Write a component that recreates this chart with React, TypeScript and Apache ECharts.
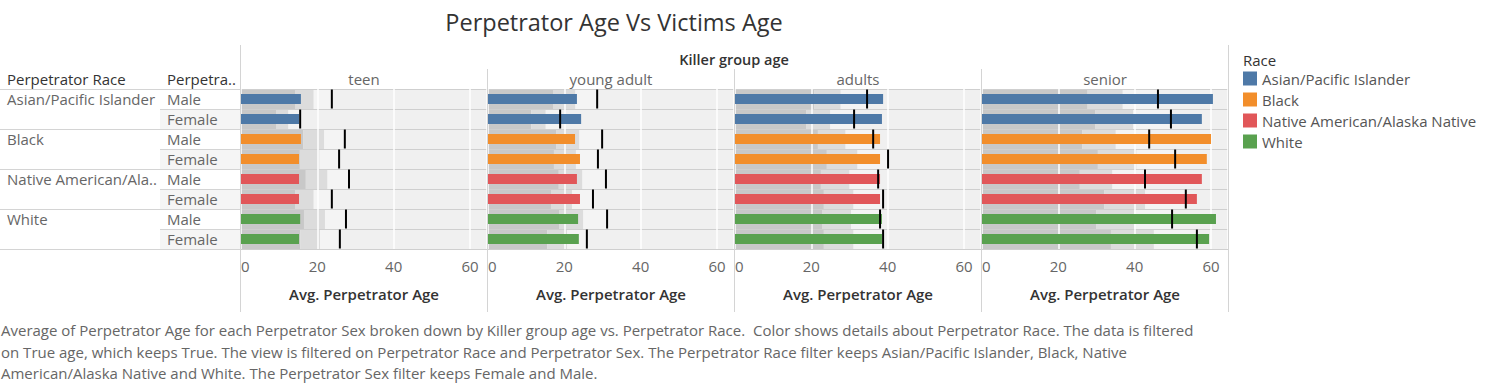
import React, { useEffect, useRef } from "react";
import * as echarts from "echarts";

const races = ["Asian/Pacific Islander", "Black", "Native American/Alaska Native", "White"];
const sexes = ["Male", "Female"];
const ageGroups = ["teen", "young adult", "adults", "senior"];
const raceColors = ["#4e79a7", "#f28e2b", "#e15759", "#59a14f"];

// Avg. Perpetrator Age, rows = race x sex (Male, Female)
const teenAvg = [15.7, 15.2, 15.7, 15.2, 15.2, 15.2, 15.5, 15.2];
const youngAdultAvg = [23.3, 24.4, 22.8, 24.1, 23.3, 24.1, 23.6, 23.8];
const adultsAvg = [38.8, 38.5, 38.0, 38.0, 38.0, 38.0, 38.5, 38.5];
const seniorAvg = [60.5, 57.6, 60.0, 58.9, 57.6, 56.3, 61.3, 59.5];

// Reference line (average target) per row
const teenRef = [23.8, 15.5, 27.2, 25.7, 28.3, 23.8, 27.5, 25.9];
const youngAdultRef = [28.6, 18.9, 29.9, 28.8, 30.9, 27.5, 31.2, 25.9];
const adultsRef = [34.6, 31.2, 36.2, 40.1, 37.5, 38.8, 38.0, 38.8];
const seniorRef = [46.1, 49.5, 43.8, 50.6, 42.7, 53.4, 49.8, 56.3];

const xTicks = [0, 20, 40, 60];
const xMax = 64.45;

const avgByGroup = [teenAvg, youngAdultAvg, adultsAvg, seniorAvg];
const refByGroup = [teenRef, youngAdultRef, adultsRef, seniorRef];

const captionLines = [
  "Average of Perpetrator Age for each Perpetrator Sex broken down by Killer group age vs. Perpetrator Race.  Color shows details about Perpetrator Race. The data is filtered",
  "on True age, which keeps True. The view is filtered on Perpetrator Race and Perpetrator Sex. The Perpetrator Race filter keeps Asian/Pacific Islander, Black, Native",
  "American/Alaska Native and White. The Perpetrator Sex filter keeps Female and Male.",
];

const FONT = "'Open Sans', 'Noto Sans', sans-serif";
const FS = 15;

export default function App() {
  const ref = useRef<HTMLDivElement>(null);
  useEffect(() => {
    if (!ref.current) return;
    const chart = echarts.init(ref.current, undefined, { renderer: "svg" });

    const rowCats: string[] = [];
    const rowRace: number[] = [];
    races.forEach((r, ri) =>
      sexes.forEach((s) => {
        rowCats.push(r + " " + s);
        rowRace.push(ri);
      })
    );

    const paneLeft0 = 241;
    const paneStep = 247;
    const paneW = 246;
    const top = 89;
    const rowH = 20;
    const nRows = rowCats.length;
    const height = rowH * nRows;

    const grids: any[] = [];
    const xAxes: any[] = [];
    const yAxes: any[] = [];
    const series: any[] = [];

    ageGroups.forEach((g, gi) => {
      grids.push({
        left: paneLeft0 + paneStep * gi,
        top,
        width: paneW,
        height,
        show: true,
        backgroundColor: "#f0f0f0",
        borderWidth: 0,
        containLabel: false,
      });
      xAxes.push({
        type: "value",
        gridIndex: gi,
        min: 0,
        max: xMax,
        interval: 20,
        z: 1.5,
        axisLine: { show: false },
        axisTick: { show: false },
        axisLabel: {
          color: "#666",
          fontSize: FS,
          fontFamily: FONT,
          margin: 9,
          showMaxLabel: false,
          alignMinLabel: "left",
          formatter: (v: number) => (xTicks.includes(v) ? String(v) : ""),
        },
        splitLine: { show: true, lineStyle: { color: "#ffffff", width: 1.5 } },
        name: "Avg. Perpetrator Age",
        nameLocation: "middle",
        nameGap: 37,
        nameTextStyle: { color: "#333", fontSize: FS, fontWeight: 600, fontFamily: FONT },
      });
      // band axis
      yAxes.push({
        type: "category",
        gridIndex: gi,
        data: rowCats,
        inverse: true,
        z: 1.5,
        axisLine: { show: false },
        axisTick: { show: false },
        axisLabel: { show: false },
        splitLine: { show: true, lineStyle: { color: "#cfcfcf", width: 1 } },
      });
      // bar axis
      yAxes.push({
        type: "category",
        gridIndex: gi,
        data: rowCats,
        inverse: true,
        axisLine: { show: false },
        axisTick: { show: false },
        axisLabel: { show: false },
        splitLine: { show: false },
      });

      const refs = refByGroup[gi];
      const avgs = avgByGroup[gi];
      const bandDefs = [
        { frac: 0.6, color: "#c8c8c8" },
        { frac: 0.2, color: "#dcdcdc" },
        { frac: 0.2, color: "#f4f4f4" },
      ];
      bandDefs.forEach((b, bi) => {
        series.push({
          type: "bar",
          name: "band" + bi,
          xAxisIndex: gi,
          yAxisIndex: gi * 2,
          stack: "band" + gi,
          barWidth: rowH,
          z: 1,
          silent: true,
          itemStyle: { color: b.color },
          data: refs.map((v) => +(v * b.frac).toFixed(3)),
        });
      });
      races.forEach((r, ri) => {
        series.push({
          type: "bar",
          name: r,
          xAxisIndex: gi,
          yAxisIndex: gi * 2 + 1,
          barWidth: 10,
          barGap: "-100%",
          z: 2,
          itemStyle: { color: raceColors[ri] },
          data: avgs.map((v, i) => (rowRace[i] === ri ? v : "-")),
        });
      });
      series.push({
        type: "scatter",
        name: "ref" + gi,
        xAxisIndex: gi,
        yAxisIndex: gi * 2,
        symbol: "rect",
        symbolSize: [2, 19],
        z: 3,
        itemStyle: { color: "#000", opacity: 1 },
        data: refs.map((v, i) => [v, i]),
      });
    });

    const graphics: any[] = [];
    const line = (x1: number, y1: number, x2: number, y2: number, color = "#d4d4d4") =>
      graphics.push({
        type: "line",
        silent: true,
        z: 10,
        shape: { x1, y1, x2, y2 },
        style: { stroke: color, lineWidth: 1 },
      });
    const text = (t: string, x: number, y: number, opts: any = {}) =>
      graphics.push({
        type: "text",
        silent: true,
        x,
        y,
        style: {
          text: t,
          fontFamily: FONT,
          fontSize: FS,
          fill: "#666",
          textVerticalAlign: "middle",
          verticalAlign: "middle",
          ...opts,
        },
      });

    // title
    text("Perpetrator Age Vs Victims Age", 614, 22, {
      fontSize: 23.5,
      fill: "#333",
      align: "center",
      textAlign: "center",
    });
    text("Killer group age", paneLeft0 + (paneStep * 4) / 2 - 1, 59, {
      fill: "#333",
      fontSize: 14.5,
      align: "center",
      textAlign: "center",
      fontWeight: 600,
    });
    ageGroups.forEach((g, gi) => {
      text(g, paneLeft0 + paneStep * gi + paneW / 2, 79, { align: "center", textAlign: "center" });
    });
    text("Perpetrator Race", 7, 79, { fill: "#333" });
    text("Perpetrator Sex", 167, 79, { fill: "#333", width: 72, overflow: "truncate", ellipsis: ".." });

    // row header backgrounds (Female cells)
    rowCats.forEach((_, i) => {
      if (i % 2 === 1) {
        graphics.push({
          type: "rect",
          silent: true,
          z: 0,
          shape: { x: 160, y: top + i * rowH, width: 80, height: rowH },
          style: { fill: "#f5f5f5" },
        });
      }
    });
    races.forEach((r, ri) => {
      text(r, 7, top + ri * 2 * rowH + 10, { width: 152, overflow: "truncate", ellipsis: ".." });
      sexes.forEach((s, si) => {
        text(s, 167, top + (ri * 2 + si) * rowH + 10);
      });
    });
    // horizontal lines in row header
    for (let i = 0; i <= nRows; i++) {
      const y = top + i * rowH + 0.5;
      if (i % 2 === 0) line(0, y, 240, y);
      else line(160, y, 240, y);
    }
    // pane dividers
    line(240.5, 45, 240.5, 312);
    for (let gi = 1; gi < 4; gi++) {
      const x = paneLeft0 + paneStep * gi - 0.5;
      line(x, 69, x, 312);
    }
    line(1228.5, 45, 1228.5, 312);

    // legend title
    text("Race", 1243, 60, { fill: "#333" });

    // caption
    captionLines.forEach((c, i) => {
      text(c, 1, 330 + i * 21.5, { fill: "#666" });
    });

    chart.setOption({
      animation: false,
      grid: grids,
      xAxis: xAxes,
      yAxis: yAxes,
      series,
      legend: {
        orient: "vertical",
        left: 1243,
        top: 71,
        padding: 0,
        itemWidth: 14,
        itemHeight: 14,
        itemGap: 6,
        icon: "rect",
        data: races,
        selectedMode: false,
        textStyle: { color: "#555", fontSize: FS, fontFamily: FONT },
      },
      graphic: graphics,
    });
    return () => chart.dispose();
  }, []);
  return (
    <div
      ref={ref}
      style={{ position: "absolute", left: 0, top: 0, width: 1487, height: 384, background: "#fff" }}
    />
  );
}
